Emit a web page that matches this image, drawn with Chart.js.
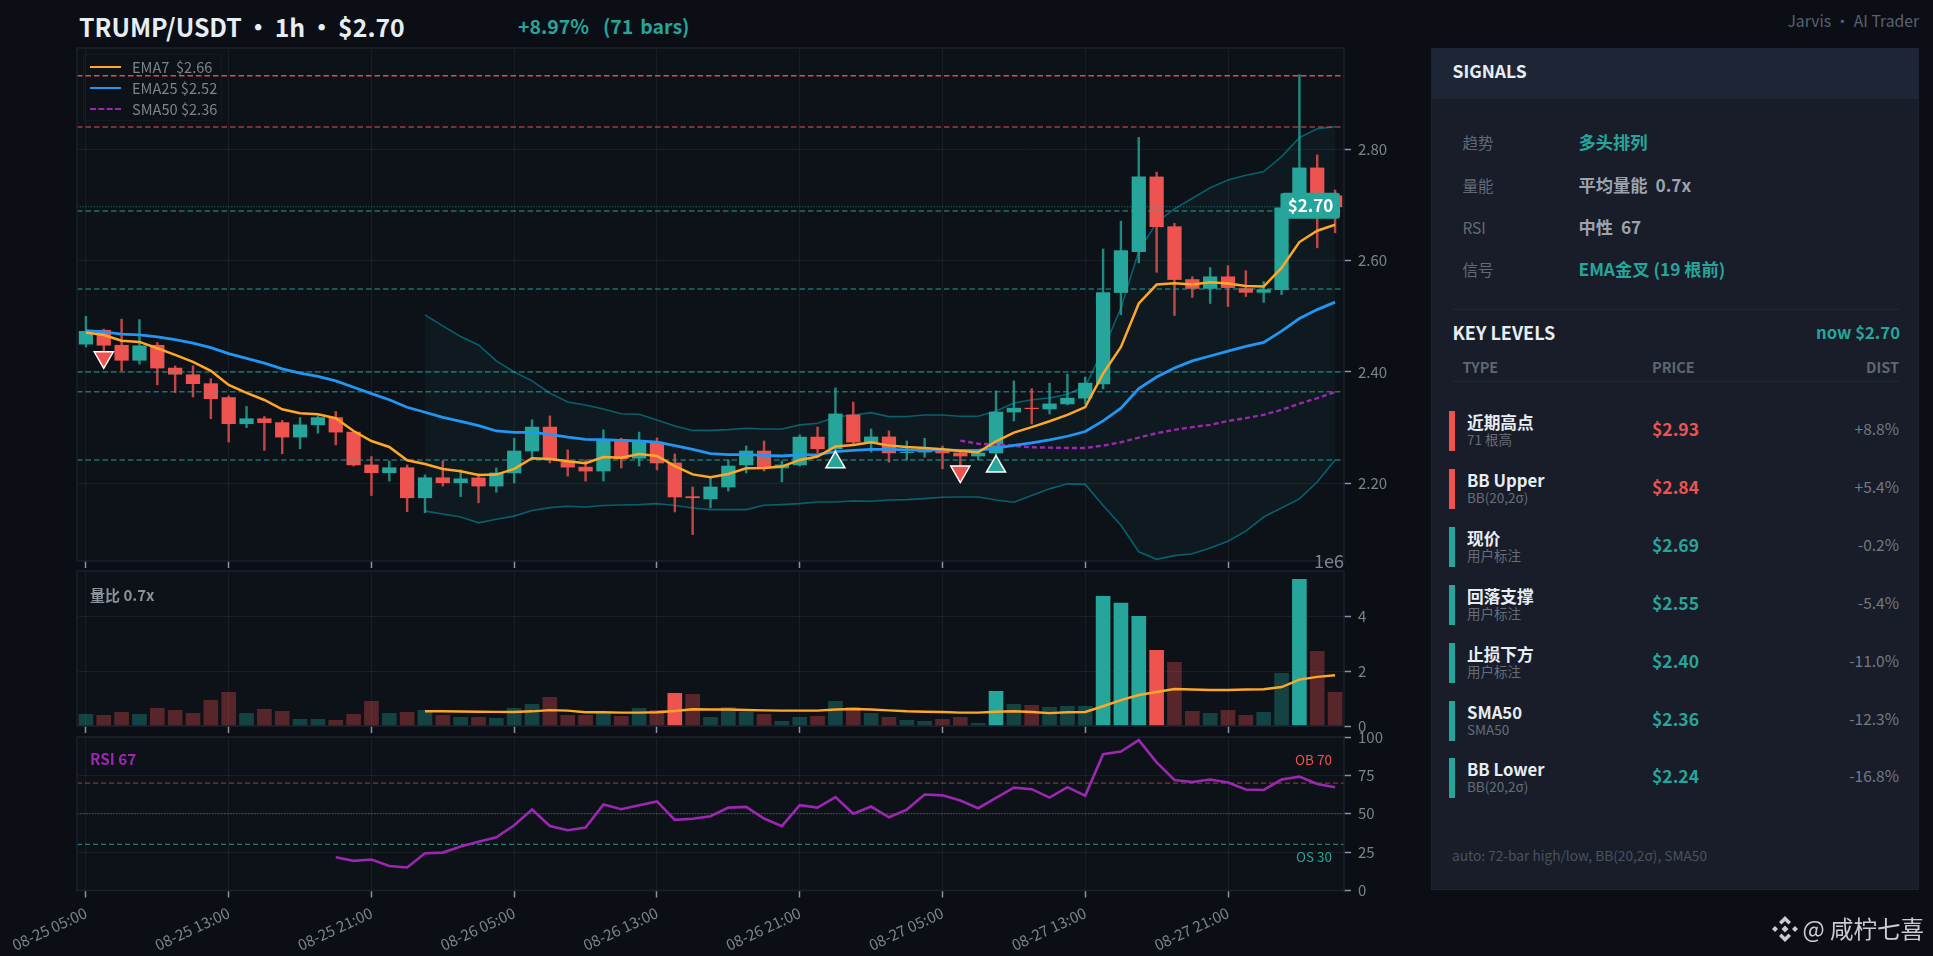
<!DOCTYPE html>
<html lang="en">
<head>
<meta charset="UTF-8">
<title>TRUMP/USDT 1h</title>
<script src="https://cdn.jsdelivr.net/npm/chart.js@4"></script>
<style>
    html, body { margin: 0; padding: 0; }
    body {
        width: 1933px; height: 956px; position: relative; overflow: hidden;
        background: #0b0e15; color: #9ca3af;
        font-family: "Noto Sans CJK SC", "Noto Sans", sans-serif;
    }
    canvas { position: absolute; left: 0; top: 0; }
    .abs { position: absolute; white-space: pre; line-height: 1; }
    .mid { transform: translateY(calc(-50% - 1px)); }
    .teal { color: #26a69a; }
    .red { color: #ef5350; }

    #legend {
        position: absolute; left: 83px; top: 54px; width: 139px; height: 67px;
        border: 1px solid rgba(255,255,255,.03); box-sizing: border-box;
    }
    #legend .swatch { position: absolute; left: 6px; width: 31px; height: 0; }
    #legend .txt { position: absolute; left: 48px; font-size: 14.6px; color: #7d838d; line-height: 1; white-space: pre; transform: translateY(-50%); }

    #side {
        position: absolute; left: 1431px; top: 48px; width: 488px; height: 842px; box-sizing: border-box;
        background: #181d29; border: 1.5px solid #1d2332;
    }
    #sideHead { position: absolute; left: 1432px; top: 48px; width: 486px; height: 51px; background: #1e2635; }
    .rowBar { position: absolute; left: 1449px; width: 6px; height: 40px; }
    .hr { position: absolute; left: 1452px; width: 448px; height: 1px; background: #1f2635; }
</style>
</head>
<body>

<div id="title" class="abs mid" style="left:79px;top:27px;font-size:24.8px;font-weight:700;color:#e6edf3;word-spacing:-3.6px">TRUMP/USDT  ·  1h  ·  $2.70</div>
<div class="abs mid teal" style="left:518px;top:27px;font-size:19.5px;font-weight:700;word-spacing:2.5px">+8.97%  (71 bars)</div>
<div class="abs mid" style="right:14px;top:22px;font-size:15.7px;color:#5b6270">Jarvis · AI Trader</div>

<canvas id="priceChart" width="1933" height="956"></canvas>
<canvas id="volChart" width="1933" height="956"></canvas>
<canvas id="rsiChart" width="1933" height="956"></canvas>

<!-- legend -->
<div id="legend">
    <div class="swatch" style="top:11px;border-top:2.5px solid #ffa726"></div>
    <div class="txt" style="top:12px">EMA7  $2.66</div>
    <div class="swatch" style="top:32px;border-top:2.5px solid #2196f3"></div>
    <div class="txt" style="top:33px">EMA25 $2.52</div>
    <div class="swatch" style="top:53px;border-top:2px dashed #9c27b0"></div>
    <div class="txt" style="top:54px">SMA50 $2.36</div>
</div>

<div class="abs" style="right:589px;top:551px;font-size:18px;color:#7d838d">1e6</div>
<div class="abs mid" style="left:90px;top:595px;font-size:15px;font-weight:700;color:#8b929c">量比 0.7x</div>
<div class="abs mid" style="left:90px;top:760px;font-size:15.3px;font-weight:700;color:#9c27b0">RSI 67</div>
<div class="abs mid red" style="right:601px;top:761px;font-size:13.5px">OB 70</div>
<div class="abs mid teal" style="right:601px;top:858px;font-size:13.5px">OS 30</div>

<!-- side panel -->
<div id="side"></div>
<div id="sideHead"></div>
<div id="sideBody"></div>

<div class="abs mid" style="right:9px;top:930px;font-size:23.5px;color:#c9ccd1">@ 咸柠七喜</div>
<svg class="abs" style="left:1771px;top:915px" width="28" height="28" viewBox="0 0 28 28" fill="#c9ccd1">
    <path d="M14 1 L20 7 L17.5 9.5 L14 6 L10.5 9.5 L8 7 Z"/>
    <path d="M14 27 L20 21 L17.5 18.5 L14 22 L10.5 18.5 L8 21 Z"/>
    <path d="M1 14 L4 11 L7 14 L4 17 Z"/>
    <path d="M27 14 L24 11 L21 14 L24 17 Z"/>
    <path d="M14 10.5 L17.5 14 L14 17.5 L10.5 14 Z"/>
</svg>

<script>
    const categories = [
        '08-25 05:00','08-25 06:00','08-25 07:00','08-25 08:00','08-25 09:00','08-25 10:00','08-25 11:00','08-25 12:00',
        '08-25 13:00','08-25 14:00','08-25 15:00','08-25 16:00','08-25 17:00','08-25 18:00','08-25 19:00','08-25 20:00',
        '08-25 21:00','08-25 22:00','08-25 23:00','08-26 00:00','08-26 01:00','08-26 02:00','08-26 03:00','08-26 04:00',
        '08-26 05:00','08-26 06:00','08-26 07:00','08-26 08:00','08-26 09:00','08-26 10:00','08-26 11:00','08-26 12:00',
        '08-26 13:00','08-26 14:00','08-26 15:00','08-26 16:00','08-26 17:00','08-26 18:00','08-26 19:00','08-26 20:00',
        '08-26 21:00','08-26 22:00','08-26 23:00','08-27 00:00','08-27 01:00','08-27 02:00','08-27 03:00','08-27 04:00',
        '08-27 05:00','08-27 06:00','08-27 07:00','08-27 08:00','08-27 09:00','08-27 10:00','08-27 11:00','08-27 12:00',
        '08-27 13:00','08-27 14:00','08-27 15:00','08-27 16:00','08-27 17:00','08-27 18:00','08-27 19:00','08-27 20:00',
        '08-27 21:00','08-27 22:00','08-27 23:00','08-28 00:00','08-28 01:00','08-28 02:00','08-28 03:00'
    ];
    const xTickLabels = ['08-25 05:00','08-25 13:00','08-25 21:00','08-26 05:00','08-26 13:00','08-26 21:00','08-27 05:00','08-27 13:00','08-27 21:00'];

    // candles
    const opens = [2.450,2.475,2.448,2.421,2.448,2.407,2.395,2.379,2.354,2.307,2.316,2.309,2.283,2.305,2.318,2.292,2.233,2.219,2.228,2.174,
        2.210,2.201,2.2096,2.195,2.2186,2.258,2.301,2.238,2.229,2.222,2.279,2.245,2.274,2.2365,2.176,2.172,2.1934,2.233,2.258,2.2276,
        2.233,2.283,2.262,2.3228,2.274,2.2833,2.255,2.256,2.258,2.2545,2.249,2.2545,2.328,2.335,2.3336,2.3426,2.353,2.3785,2.5427,2.616,
        2.7504,2.661,2.566,2.550,2.571,2.550,2.543,2.548,2.695,2.7666,2.7164];
    const closes = [2.473,2.448,2.421,2.447,2.407,2.396,2.379,2.352,2.307,2.316,2.309,2.283,2.305,2.318,2.292,2.233,2.219,2.228,2.174,2.210,
        2.201,2.208,2.195,2.2186,2.258,2.301,2.244,2.229,2.222,2.279,2.244,2.274,2.2365,2.1754,2.174,2.1934,2.231,2.258,2.229,2.233,
        2.283,2.262,2.3246,2.274,2.2833,2.2545,2.256,2.262,2.2545,2.249,2.2545,2.328,2.335,2.334,2.3426,2.353,2.380,2.5427,2.618,2.7504,
        2.661,2.566,2.550,2.571,2.5516,2.543,2.548,2.695,2.7666,2.7164,2.6967];
    const highs = [2.500,2.477,2.495,2.494,2.453,2.411,2.411,2.388,2.357,2.338,2.320,2.313,2.318,2.321,2.329,2.292,2.248,2.240,2.233,2.215,
        2.240,2.224,2.217,2.2276,2.281,2.314,2.321,2.260,2.242,2.296,2.281,2.292,2.2815,2.2527,2.1934,2.2096,2.242,2.267,2.276,2.240,
        2.287,2.301,2.3713,2.346,2.2976,2.294,2.276,2.281,2.267,2.258,2.260,2.366,2.384,2.370,2.380,2.396,2.391,2.621,2.671,2.8215,
        2.759,2.667,2.571,2.5875,2.591,2.582,2.5624,2.720,2.934,2.790,2.727];
    const lows = [2.445,2.435,2.402,2.414,2.377,2.363,2.355,2.316,2.274,2.300,2.259,2.253,2.262,2.290,2.269,2.231,2.178,2.204,2.149,2.147,
        2.195,2.176,2.165,2.184,2.2006,2.245,2.2365,2.213,2.204,2.204,2.2276,2.231,2.224,2.1485,2.1078,2.1557,2.186,2.2186,2.222,2.2024,
        2.231,2.2545,2.255,2.270,2.256,2.238,2.242,2.247,2.226,2.230,2.242,2.250,2.312,2.3066,2.3246,2.341,2.3426,2.3695,2.503,2.596,
        2.579,2.5015,2.534,2.523,2.5176,2.5355,2.525,2.539,2.690,2.623,2.650];

    const ema7 = [2.471,2.4665,2.456,2.454,2.4426,2.4306,2.418,2.402,2.3767,2.3623,2.3497,2.333,2.3258,2.324,2.3168,2.294,2.276,2.2653,2.2413,2.2347,
        2.2258,2.2216,2.215,2.2156,2.2258,2.245,2.2437,2.2395,2.236,2.2473,2.246,2.2527,2.249,2.231,2.216,2.211,2.2168,2.227,2.2276,2.230,
        2.242,2.248,2.266,2.269,2.2737,2.2677,2.265,2.2635,2.261,2.258,2.2557,2.2755,2.291,2.301,2.3114,2.3228,2.337,2.397,2.445,2.523,
        2.557,2.5594,2.557,2.561,2.559,2.5546,2.5534,2.587,2.6334,2.6537,2.6645];
    const ema25 = [2.4743,2.472,2.468,2.4665,2.463,2.458,2.452,2.4438,2.433,2.4246,2.416,2.4055,2.398,2.392,2.384,2.3725,2.361,2.350,2.3366,2.3276,
        2.3186,2.3114,2.3036,2.294,2.2916,2.2916,2.288,2.283,2.279,2.2785,2.277,2.276,2.274,2.2677,2.261,2.2533,2.2515,2.2515,2.250,2.249,
        2.251,2.2515,2.257,2.2593,2.261,2.261,2.260,2.2593,2.260,2.2593,2.2593,2.263,2.268,2.2725,2.278,2.2845,2.293,2.312,2.335,2.370,
        2.391,2.407,2.420,2.4287,2.4376,2.446,2.453,2.4734,2.496,2.512,2.5254];
    const sma50 = [null,null,null,null,null,null,null,null,null,null,null,null,null,null,null,null,null,null,null,null,
        null,null,null,null,null,null,null,null,null,null,null,null,null,null,null,null,null,null,null,null,
        null,null,null,null,null,null,null,null,null,2.2767,2.271,2.2695,2.267,2.2647,2.264,2.2635,2.2635,2.2677,2.2737,2.282,
        2.290,2.296,2.301,2.305,2.312,2.317,2.323,2.332,2.343,2.353,2.364];
    const bbUpper = [null,null,null,null,null,null,null,null,null,null,null,null,null,null,null,null,null,null,null,2.5025,
        2.4827,2.4636,2.4486,2.420,2.400,2.384,2.362,2.346,2.3407,2.3336,2.325,2.324,2.3138,2.303,2.295,2.295,2.2964,2.2988,2.2976,2.2976,
        2.305,2.308,2.319,2.3228,2.327,2.3198,2.320,2.3228,2.3228,2.3204,2.3204,2.330,2.3444,2.350,2.3533,2.360,2.3743,2.440,2.515,2.617,
        2.669,2.693,2.712,2.731,2.745,2.7534,2.760,2.787,2.821,2.837,2.8406];
    const bbLower = [null,null,null,null,null,null,null,null,null,null,null,null,null,null,null,null,null,null,null,2.150,
        2.1447,2.1395,2.129,2.1353,2.141,2.151,2.1563,2.1587,2.1575,2.160,2.161,2.1617,2.1635,2.160,2.1557,2.1527,2.1527,2.1527,2.1605,2.1617,
        2.1635,2.1665,2.1665,2.1683,2.1677,2.170,2.1706,2.1724,2.1748,2.1754,2.1754,2.170,2.166,2.178,2.190,2.199,2.198,2.160,2.1245,2.077,
        2.0634,2.070,2.0733,2.0838,2.096,2.114,2.1394,2.1556,2.172,2.2023,2.242];

    // in units of 1e6
    const volumes = [0.426,0.39,0.5,0.426,0.645,0.57,0.46,0.94,1.23,0.46,0.61,0.535,0.243,0.243,0.207,0.426,0.9,0.46,0.5,0.57,
        0.39,0.316,0.316,0.28,0.645,0.79,1.046,0.39,0.39,0.46,0.353,0.645,0.57,1.19,1.156,0.316,0.68,0.5,0.426,0.17,
        0.316,0.353,0.9,0.68,0.46,0.316,0.207,0.17,0.243,0.316,0.097,1.265,0.79,0.754,0.68,0.718,0.718,4.73,4.477,4.0,
        2.76,2.32,0.535,0.46,0.57,0.39,0.5,1.92,5.35,2.725,1.23];
    const volumeMa = [null,null,null,null,null,null,null,null,null,null,null,null,null,null,null,null,null,null,null,0.535,
        0.535,0.53,0.52,0.515,0.51,0.535,0.58,0.56,0.5,0.5,0.487,0.487,0.5,0.547,0.61,0.6,0.6,0.585,0.57,0.56,
        0.56,0.56,0.6,0.62,0.6,0.57,0.535,0.52,0.51,0.487,0.487,0.52,0.535,0.51,0.47,0.5,0.51,0.72,0.94,1.13,
        1.24,1.35,1.33,1.31,1.31,1.33,1.34,1.42,1.69,1.79,1.85];
    const volumeHot = [33,51,57,58,59,60,68];

    const rsi = [null,null,null,null,null,null,null,null,null,null,null,null,null,null,21.7,19.3,20.2,16,15,24.3,
        24.7,28.6,31.7,34.7,42.5,52.7,42,39.3,41,56,53,55.6,58,46,46.7,48.4,54,54.5,46.9,41.9,
        55.6,54,60.8,50,54.7,47.7,52.7,62.5,62,58.6,53.6,60.3,67,66,60.5,67.3,61.8,88.8,90.5,98,
        83.5,72,70.7,72.3,70.3,65.8,65.5,72.3,74.2,69.4,67.3];

    const levelPrices = [2.932,2.84,2.689,2.549,2.40,2.3644,2.2419];
    const lastPrice = 2.6967;
    const sellBars = [1,49];
    const sellPrices = [2.4264,2.2211];
    const buyBars = [42,51];
    const buyPrices = [2.2377,2.23];

    const priceTicks = [2.20,2.40,2.60,2.80];
    const volumeTicks = [0,2,4];
    const rsiTicks = [0,25,50,75,100];

    // side panel content
    const signalNames = ['趋势','量能','RSI','信号'];
    const signalValues = ['多头排列','平均量能  0.7x','中性  67','EMA金叉 (19 根前)'];
    const levelNames = ['近期高点','BB Upper','现价','回落支撑','止损下方','SMA50','BB Lower'];
    const levelSubs = ['71 根高','BB(20,2σ)','用户标注','用户标注','用户标注','SMA50','BB(20,2σ)'];
    const levelTexts = ['$2.93','$2.84','$2.69','$2.55','$2.40','$2.36','$2.24'];
    const levelDists = ['+8.8%','+5.4%','-0.2%','-5.4%','-11.0%','-12.3%','-16.8%'];

    const TEAL = '#26a69a', RED = '#ef5350';
    const FONT = '"Noto Sans CJK SC", "Noto Sans", sans-serif';
    const GRID = 'rgba(255,255,255,0.055)';
    const PANEL_BG = '#0d1118';
    const SPINE = '#1b2130';

    Chart.defaults.font.family = FONT;
    Chart.defaults.animation = false;
    Chart.defaults.responsive = false;
    Chart.defaults.devicePixelRatio = 1;
    Chart.defaults.plugins.legend.display = false;
    Chart.defaults.plugins.tooltip.enabled = false;

    const upColor = i => closes[i] >= opens[i];

    function rsiLevels(chart) {
        const {ctx, chartArea: a, scales: {y}} = chart;
        hline(ctx, a, y.getPixelForValue(70), 'rgba(239,83,80,0.55)', [5, 3], 1.2);
        hline(ctx, a, y.getPixelForValue(30), 'rgba(38,166,154,0.75)', [5, 3], 1.2);
        hline(ctx, a, y.getPixelForValue(50), 'rgba(160,160,160,0.45)', [1.5, 1.5], 1);
    }

    function hline(ctx, a, yPx, color, dash, width) {
        ctx.save();
        ctx.strokeStyle = color;
        ctx.setLineDash(dash);
        ctx.lineWidth = width;
        ctx.beginPath();
        ctx.moveTo(a.left, yPx);
        ctx.lineTo(a.right, yPx);
        ctx.stroke();
        ctx.restore();
    }

    // panel background and spine
    const panelPlugin = {
        id: 'panel',
        beforeDraw(chart) {
            const {ctx, chartArea: a} = chart;
            ctx.fillStyle = PANEL_BG;
            ctx.fillRect(a.left, a.top, a.right - a.left, a.bottom - a.top);
        },
        afterDraw(chart) {
            const {ctx, chartArea: a} = chart;
            ctx.strokeStyle = SPINE;
            ctx.lineWidth = 1.5;
            ctx.strokeRect(a.left, a.top, a.right - a.left, a.bottom - a.top);
        }
    };

    // price levels go over the candles and under the moving averages
    const levelPlugin = {
        id: 'levels',
        afterDatasetDraw(chart, args) {
            if (chart.data.datasets[args.index].label !== 'body') return;
            const {ctx, chartArea: a, scales: {y}} = chart;
            levelPrices.forEach((p, i) => {
                const color = i === 0 ? 'rgba(239,83,80,0.9)' : i === 1 ? 'rgba(239,83,80,0.65)' : 'rgba(38,166,154,0.65)';
                hline(ctx, a, y.getPixelForValue(p), color, [5.5, 3], 1.5);
            });
            hline(ctx, a, y.getPixelForValue(lastPrice), 'rgba(38,166,154,0.55)', [1.3, 1.5], 1);
        }
    };

    // "$2.70" tag on the last price
    const priceTagPlugin = {
        id: 'priceTag',
        afterDatasetsDraw(chart) {
            const {ctx, chartArea: a, scales: {y}} = chart;
            const yPx = y.getPixelForValue(lastPrice);
            ctx.save();
            ctx.fillStyle = TEAL;
            ctx.beginPath();
            ctx.roundRect(a.right - 63, yPx - 14, 59, 26, 3);
            ctx.fill();
            ctx.fillStyle = '#fff';
            ctx.font = '700 17px ' + FONT;
            ctx.textAlign = 'center';
            ctx.textBaseline = 'middle';
            ctx.fillText('$2.70', a.right - 33.5, yPx - 1);
            ctx.restore();
        }
    };

    const rsiLevelPlugin = {
        id: 'rsiLevels',
        beforeDatasetsDraw: rsiLevels
    };

    function xAxis(bottomHeight, showLabels) {
        return {
            offset: true,
            afterBuildTicks: s => { s.ticks = s.ticks.filter(t => xTickLabels.includes(categories[t.value])); },
            afterFit: s => { s.height = bottomHeight; },
            grid: { color: GRID, tickColor: '#8b929c', tickLength: 7, tickWidth: 1.5, offset: false },
            border: { display: false },
            ticks: {
                display: showLabels,
                autoSkip: false,
                minRotation: 25,
                maxRotation: 25,
                padding: 6,
                color: '#7d838d',
                font: { size: 15.2 }
            }
        };
    }

    function yAxis(min, max, tickValues, fmt) {
        return {
            position: 'right',
            min: min,
            max: max,
            afterBuildTicks: s => { s.ticks = tickValues.map(v => ({value: v})); },
            afterFit: s => { s.width = 70; },
            grid: { color: GRID, tickColor: '#8b929c', tickLength: 7, tickWidth: 1.5 },
            border: { display: false },
            ticks: { color: '#7d838d', padding: 7, font: { size: 15 }, callback: fmt }
        };
    }

    new Chart(document.getElementById('priceChart'), {
        type: 'bar',
        plugins: [panelPlugin, levelPlugin, priceTagPlugin],
        data: {
            labels: categories,
            datasets: [
                { type: 'line', label: 'bbUpper', data: bbUpper, order: 11, borderColor: 'rgba(0,172,193,0.5)', borderWidth: 1.6,
                  pointRadius: 0, fill: '+1', backgroundColor: 'rgba(38,166,154,0.06)' },
                { type: 'line', label: 'bbLower', data: bbLower, order: 10, borderColor: 'rgba(0,172,193,0.5)', borderWidth: 1.6, pointRadius: 0, fill: false },
                { label: 'wick', data: categories.map((c, i) => [lows[i], highs[i]]), order: 9, grouped: false, barThickness: 1.8,
                  backgroundColor: categories.map((c, i) => upColor(i) ? 'rgba(38,166,154,0.8)' : 'rgba(239,83,80,0.8)') },
                { label: 'body', data: categories.map((c, i) => [opens[i], closes[i]]), order: 8, grouped: false, barThickness: 13.6,
                  backgroundColor: categories.map((c, i) => upColor(i) ? TEAL : RED) },
                { type: 'line', label: 'SMA50', data: sma50, order: 5, borderColor: '#9c27b0', borderWidth: 2.4, borderDash: [5, 3], pointRadius: 0 },
                { type: 'line', label: 'EMA25', data: ema25, order: 4, borderColor: '#2196f3', borderWidth: 2.8, pointRadius: 0 },
                { type: 'line', label: 'EMA7', data: ema7, order: 3, borderColor: '#ffa726', borderWidth: 2.5, pointRadius: 0 },
                { type: 'line', label: 'sell', data: sellBars.map((b, i) => ({x: categories[b], y: sellPrices[i]})), order: 1, showLine: false,
                  pointStyle: 'triangle', pointRotation: 180, pointRadius: 11, backgroundColor: RED, borderColor: '#fff', borderWidth: 1.5 },
                { type: 'line', label: 'buy', data: buyBars.map((b, i) => ({x: categories[b], y: buyPrices[i]})), order: 1, showLine: false,
                  pointStyle: 'triangle', pointRadius: 11, backgroundColor: TEAL, borderColor: '#fff', borderWidth: 1.5 }
            ]
        },
        options: {
            layout: { padding: { left: 77, top: 48, right: 519, bottom: 956 - 569 } },
            scales: {
                x: xAxis(8, false),
                y: yAxis(2.0604, 2.982, priceTicks, v => v.toFixed(2))
            }
        }
    });

    new Chart(document.getElementById('volChart'), {
        type: 'bar',
        plugins: [panelPlugin],
        data: {
            labels: categories,
            datasets: [
                { label: 'volume', data: volumes, order: 2, barThickness: 14,
                  backgroundColor: categories.map((c, i) => {
                      const alpha = volumeHot.includes(i) ? 1 : 0.33;
                      return upColor(i) ? `rgba(38,166,154,${alpha})` : `rgba(239,83,80,${alpha})`;
                  }) },
                { type: 'line', label: 'volume MA', data: volumeMa, order: 1, borderColor: '#ffa726', borderWidth: 2.4, pointRadius: 0 }
            ]
        },
        options: {
            layout: { padding: { left: 77, top: 571, right: 519, bottom: 956 - 734 } },
            scales: {
                x: xAxis(8, false),
                y: yAxis(0, 5.65, volumeTicks, v => String(v))
            }
        }
    });

    new Chart(document.getElementById('rsiChart'), {
        type: 'line',
        plugins: [panelPlugin, rsiLevelPlugin],
        data: {
            labels: categories,
            datasets: [
                { label: 'RSI', data: rsi, borderColor: '#9c27b0', borderWidth: 2.6, pointRadius: 0 }
            ]
        },
        options: {
            layout: { padding: { left: 77, top: 737, right: 519, bottom: 0 } },
            scales: {
                x: xAxis(956 - 890.5, true),
                y: yAxis(0, 100, rsiTicks, v => String(v))
            }
        }
    });

    // side panel
    function add(html) {
        document.getElementById('sideBody').insertAdjacentHTML('beforeend', html);
    }
    add('<div class="abs mid" style="left:1452.5px;top:72px;font-size:17.5px;font-weight:700;color:#e6edf3">SIGNALS</div>');
    const signalY = [143, 185.5, 228, 270];
    const signalCols = ['#26a69a', '#9ca3af', '#9ca3af', '#26a69a'];
    signalNames.forEach((name, i) => {
        add(`<div class="abs mid" style="left:1462.5px;top:${signalY[i] + 1}px;font-size:15.5px;color:#636a76">${name}</div>`);
        add(`<div class="abs mid" style="left:1578.5px;top:${signalY[i]}px;font-size:17.3px;font-weight:700;color:${signalCols[i]}">${signalValues[i]}</div>`);
    });
    add('<div class="hr" style="top:309px"></div>');
    add('<div class="abs mid" style="left:1452.5px;top:333px;font-size:18px;font-weight:700;color:#e6edf3">KEY LEVELS</div>');
    add('<div class="abs mid teal" style="right:33px;top:333px;font-size:16.7px;font-weight:700">now $2.70</div>');
    add('<div class="abs mid" style="left:1462.5px;top:368px;font-size:14.5px;font-weight:700;color:#5f6672">TYPE</div>');
    add('<div class="abs mid" style="left:1652px;top:368px;font-size:14.5px;font-weight:700;color:#5f6672">PRICE</div>');
    add('<div class="abs mid" style="right:34px;top:368px;font-size:14.5px;font-weight:700;color:#5f6672">DIST</div>');
    add('<div class="hr" style="top:381px"></div>');
    levelNames.forEach((name, i) => {
        const top = 411 + i * 57.9;
        const cls = i < 2 ? 'red' : 'teal';
        const col = i < 2 ? RED : TEAL;
        add(`<div class="rowBar" style="top:${top}px;background:${col}"></div>`);
        add(`<div class="abs mid" style="left:1467px;top:${top + 12}px;font-size:16.7px;font-weight:700;color:#e6edf3">${name}</div>`);
        add(`<div class="abs mid" style="left:1467px;top:${top + 30}px;font-size:13.5px;color:#666d79">${levelSubs[i]}</div>`);
        add(`<div class="abs mid ${cls}" style="left:1652px;top:${top + 19}px;font-size:17.5px;font-weight:700">${levelTexts[i]}</div>`);
        add(`<div class="abs mid" style="right:34px;top:${top + 19}px;font-size:15.5px;color:#727985">${levelDists[i]}</div>`);
    });
    add('<div class="abs mid" style="left:1452px;top:856.5px;font-size:13.7px;color:#4b5260">auto: 72-bar high/low, BB(20,2σ), SMA50</div>');
</script>
</body>
</html>
